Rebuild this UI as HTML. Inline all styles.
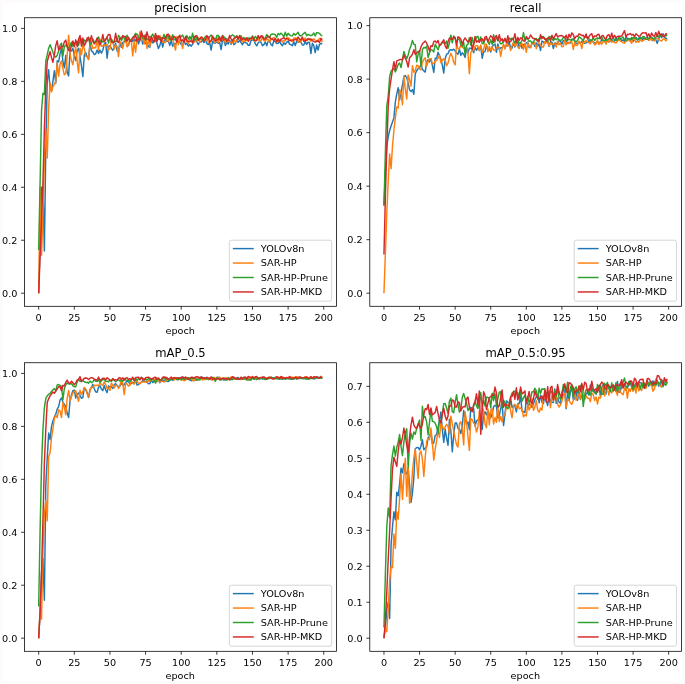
<!DOCTYPE html>
<html lang="en"><head><meta charset="utf-8"><title>training curves</title>
<style>
html,body{margin:0;padding:0;background:#fff;}
body{width:685px;height:684px;overflow:hidden;}
svg{display:block;font-family:"DejaVu Sans","Liberation Sans",sans-serif;fill:#000;}
.ax{fill:none;stroke:#000;stroke-width:.77;stroke-linecap:square;}
.tk{stroke:#000;stroke-width:.77;}
.ln{fill:none;stroke-width:1.45;stroke-linejoin:round;stroke-linecap:butt;}
.t10{font-size:9.7px;}
.t12{font-size:11.6px;}
.lg{fill:#fff;fill-opacity:.8;stroke:#ccc;stroke-opacity:.8;stroke-width:1;}
</style></head><body>
<svg width="685" height="684" viewBox="0 0 685 684">
<rect x="0" y="0" width="685" height="684" fill="#fff"/>
<rect x="1" y="1" width="683" height="682" fill="none" stroke="#fdfbfb" stroke-width="2"/>
<rect x="2.5" y="2.5" width="680" height="679" fill="none" stroke="#fefcfd" stroke-width="1"/>
<g>
<clipPath id="c1"><rect x="24.50" y="17.75" width="312.00" height="288.55"/></clipPath>
<g clip-path="url(#c1)">
<polyline class="ln" stroke="#1f77b4" points="38.68,293.20 40.11,240.24 41.53,187.28 42.96,187.28 44.38,251.10 45.81,147.56 47.23,81.36 48.66,69.71 50.08,89.30 51.51,90.63 52.93,81.36 54.36,70.77 55.79,83.08 57.21,60.77 58.64,61.96 60.06,53.60 61.49,48.65 62.91,61.31 64.34,67.73 65.76,55.26 67.19,72.12 68.61,75.88 70.04,50.43 71.46,50.96 72.89,48.28 74.31,55.87 75.74,60.58 77.17,50.37 78.59,48.35 80.02,56.28 81.44,65.74 82.87,76.60 84.29,55.05 85.72,52.42 87.14,56.92 88.57,59.01 89.99,42.75 91.42,50.82 92.84,51.90 94.27,54.62 95.69,53.80 97.12,49.89 98.54,53.40 99.97,50.16 101.40,53.08 102.82,50.22 104.25,43.95 105.67,42.41 107.10,58.06 108.52,46.33 109.95,45.54 111.37,48.36 112.80,50.43 114.22,46.98 115.65,43.21 117.07,50.93 118.50,51.17 119.92,42.08 121.35,47.38 122.78,42.44 124.20,41.82 125.63,39.31 127.05,45.22 128.48,45.45 129.90,40.14 131.33,40.40 132.75,41.43 134.18,39.46 135.60,41.09 137.03,37.46 138.45,43.95 139.88,39.66 141.30,37.48 142.73,43.98 144.15,41.12 145.58,43.68 147.01,42.72 148.43,46.64 149.86,47.18 151.28,39.84 152.71,42.90 154.13,41.27 155.56,40.18 156.98,43.29 158.41,48.52 159.83,45.66 161.26,39.88 162.68,47.20 164.11,40.53 165.53,39.31 166.96,41.39 168.38,41.00 169.81,45.42 171.24,40.48 172.66,46.41 174.09,43.35 175.51,44.36 176.94,42.32 178.36,41.62 179.79,42.33 181.21,44.41 182.64,45.20 184.06,40.25 185.49,44.52 186.91,43.45 188.34,46.14 189.76,44.51 191.19,46.16 192.62,44.17 194.04,41.36 195.47,39.35 196.89,42.01 198.32,44.71 199.74,41.78 201.17,42.01 202.59,40.53 204.02,42.71 205.44,39.92 206.87,43.59 208.29,44.53 209.72,42.83 211.14,50.11 212.57,41.34 213.99,43.01 215.42,42.98 216.85,41.90 218.27,43.34 219.70,42.61 221.12,49.58 222.55,39.93 223.97,40.58 225.40,45.56 226.82,42.57 228.25,43.89 229.67,40.14 231.10,44.24 232.52,40.03 233.95,44.73 235.37,43.50 236.80,39.88 238.22,42.33 239.65,40.09 241.08,42.71 242.50,44.75 243.93,41.57 245.35,42.82 246.78,42.93 248.20,45.31 249.63,45.24 251.05,40.22 252.48,40.07 253.90,40.04 255.33,43.89 256.75,45.84 258.18,42.70 259.60,41.59 261.03,42.16 262.46,45.78 263.88,44.70 265.31,41.88 266.73,45.76 268.16,41.11 269.58,40.30 271.01,44.64 272.43,45.75 273.86,40.47 275.28,41.71 276.71,43.50 278.13,43.38 279.56,40.97 280.98,44.08 282.41,45.74 283.83,42.70 285.26,44.34 286.69,42.39 288.11,41.01 289.54,44.11 290.96,44.71 292.39,45.72 293.81,41.74 295.24,45.58 296.66,41.20 298.09,42.46 299.51,41.47 300.94,41.98 302.36,45.03 303.79,45.10 305.21,41.37 306.64,44.56 308.07,42.24 309.49,42.43 310.92,53.56 312.34,43.23 313.77,45.61 315.19,52.50 316.62,45.08 318.04,50.11 319.47,44.29 320.89,43.49 322.32,43.76"/>
<polyline class="ln" stroke="#ff7f0e" points="38.68,293.20 40.11,187.28 41.53,255.33 42.96,213.76 44.38,160.80 45.81,129.02 47.23,158.15 48.66,107.84 50.08,82.68 51.51,91.95 52.93,86.66 54.36,84.41 55.79,81.09 57.21,62.71 58.64,76.19 60.06,64.33 61.49,61.01 62.91,68.87 64.34,74.80 65.76,73.37 67.19,55.38 68.61,35.14 70.04,54.29 71.46,60.81 72.89,64.84 74.31,53.96 75.74,47.38 77.17,61.63 78.59,72.82 80.02,48.12 81.44,54.73 82.87,44.95 84.29,48.55 85.72,56.16 87.14,56.26 88.57,59.78 89.99,44.35 91.42,43.21 92.84,48.45 94.27,47.50 95.69,47.84 97.12,39.40 98.54,50.20 99.97,39.08 101.40,46.20 102.82,45.78 104.25,44.89 105.67,45.79 107.10,44.16 108.52,49.89 109.95,48.86 111.37,39.52 112.80,40.75 114.22,49.36 115.65,45.32 117.07,46.35 118.50,56.60 119.92,41.70 121.35,43.13 122.78,48.44 124.20,40.57 125.63,37.05 127.05,47.00 128.48,44.45 129.90,39.09 131.33,41.08 132.75,55.94 134.18,41.25 135.60,52.23 137.03,39.01 138.45,38.93 139.88,31.84 141.30,40.58 142.73,35.27 144.15,44.06 145.58,34.67 147.01,48.52 148.43,39.13 149.86,46.08 151.28,38.31 152.71,38.67 154.13,36.02 155.56,35.14 156.98,40.95 158.41,38.37 159.83,35.52 161.26,38.98 162.68,42.27 164.11,42.28 165.53,42.55 166.96,35.47 168.38,41.29 169.81,35.75 171.24,36.73 172.66,38.45 174.09,45.12 175.51,50.11 176.94,36.41 178.36,44.82 179.79,39.04 181.21,41.32 182.64,48.52 184.06,39.37 185.49,39.47 186.91,41.77 188.34,43.62 189.76,37.96 191.19,37.18 192.62,42.45 194.04,42.27 195.47,41.05 196.89,40.87 198.32,37.56 199.74,42.20 201.17,40.72 202.59,39.16 204.02,40.07 205.44,41.25 206.87,38.27 208.29,42.53 209.72,42.13 211.14,40.73 212.57,38.21 213.99,41.67 215.42,42.59 216.85,37.28 218.27,42.44 219.70,39.36 221.12,41.35 222.55,39.21 223.97,39.00 225.40,42.69 226.82,40.88 228.25,40.99 229.67,41.95 231.10,42.97 232.52,42.93 233.95,39.33 235.37,42.43 236.80,41.01 238.22,37.08 239.65,37.65 241.08,37.42 242.50,41.81 243.93,40.93 245.35,41.35 246.78,39.88 248.20,39.56 249.63,40.35 251.05,38.41 252.48,38.97 253.90,38.89 255.33,41.78 256.75,38.44 258.18,39.04 259.60,40.96 261.03,40.54 262.46,37.18 263.88,40.72 265.31,40.73 266.73,39.28 268.16,39.27 269.58,42.51 271.01,39.53 272.43,38.47 273.86,37.59 275.28,38.90 276.71,41.96 278.13,41.29 279.56,40.41 280.98,39.33 282.41,42.06 283.83,40.58 285.26,40.93 286.69,37.70 288.11,37.73 289.54,38.87 290.96,39.99 292.39,41.72 293.81,37.93 295.24,38.08 296.66,38.30 298.09,42.26 299.51,38.85 300.94,42.00 302.36,38.28 303.79,39.77 305.21,37.94 306.64,40.52 308.07,39.62 309.49,38.97 310.92,41.30 312.34,39.62 313.77,38.81 315.19,40.17 316.62,40.60 318.04,40.15 319.47,38.38 320.89,38.18 322.32,42.17"/>
<polyline class="ln" stroke="#2ca02c" points="38.68,250.04 40.11,181.98 41.53,110.49 42.96,93.28 44.38,94.60 45.81,60.97 47.23,54.88 48.66,48.26 50.08,44.66 51.51,48.26 52.93,52.23 54.36,55.75 55.79,57.11 57.21,55.55 58.64,50.91 60.06,45.16 61.49,43.13 62.91,55.82 64.34,46.68 65.76,45.08 67.19,46.20 68.61,49.45 70.04,45.58 71.46,42.21 72.89,46.46 74.31,43.45 75.74,42.28 77.17,41.28 78.59,45.45 80.02,39.50 81.44,38.88 82.87,44.64 84.29,39.94 85.72,41.01 87.14,41.16 88.57,37.28 89.99,44.78 91.42,42.73 92.84,38.94 94.27,41.93 95.69,42.21 97.12,38.80 98.54,36.93 99.97,42.20 101.40,40.41 102.82,41.94 104.25,40.85 105.67,38.97 107.10,37.54 108.52,43.05 109.95,38.04 111.37,39.01 112.80,42.13 114.22,42.31 115.65,41.01 117.07,41.63 118.50,35.34 119.92,37.16 121.35,40.55 122.78,37.78 124.20,37.75 125.63,41.44 127.05,35.27 128.48,38.54 129.90,40.41 131.33,39.91 132.75,37.47 134.18,35.67 135.60,33.49 137.03,34.21 138.45,36.88 139.88,39.79 141.30,33.91 142.73,37.93 144.15,38.95 145.58,34.34 147.01,39.61 148.43,38.92 149.86,36.42 151.28,36.67 152.71,33.98 154.13,37.48 155.56,39.71 156.98,35.47 158.41,39.24 159.83,39.42 161.26,37.71 162.68,38.36 164.11,34.33 165.53,39.66 166.96,35.21 168.38,36.36 169.81,39.90 171.24,40.03 172.66,34.64 174.09,39.40 175.51,40.09 176.94,38.97 178.36,36.72 179.79,37.37 181.21,36.52 182.64,34.96 184.06,38.92 185.49,39.16 186.91,35.61 188.34,39.17 189.76,36.49 191.19,39.54 192.62,33.17 194.04,39.98 195.47,36.10 196.89,39.30 198.32,39.59 199.74,39.01 201.17,38.68 202.59,40.03 204.02,38.78 205.44,36.46 206.87,35.94 208.29,38.88 209.72,36.73 211.14,35.07 212.57,37.09 213.99,37.99 215.42,39.94 216.85,35.48 218.27,35.54 219.70,39.51 221.12,38.99 222.55,35.39 223.97,36.85 225.40,37.98 226.82,39.05 228.25,39.27 229.67,36.81 231.10,36.01 232.52,34.73 233.95,35.78 235.37,37.73 236.80,35.70 238.22,39.26 239.65,36.39 241.08,35.86 242.50,39.34 243.93,37.51 245.35,38.68 246.78,38.08 248.20,38.31 249.63,37.89 251.05,38.72 252.48,35.90 253.90,39.04 255.33,36.33 256.75,38.26 258.18,36.56 259.60,37.60 261.03,37.09 262.46,36.36 263.88,38.16 265.31,38.04 266.73,34.49 268.16,36.62 269.58,37.62 271.01,34.51 272.43,33.92 273.86,34.24 275.28,34.64 276.71,37.40 278.13,33.38 279.56,34.81 280.98,33.14 282.41,34.56 283.83,36.99 285.26,32.24 286.69,36.09 288.11,33.34 289.54,34.99 290.96,35.69 292.39,35.87 293.81,33.45 295.24,35.12 296.66,33.71 298.09,32.26 299.51,35.56 300.94,35.93 302.36,34.71 303.79,33.36 305.21,32.25 306.64,35.71 308.07,34.41 309.49,35.19 310.92,35.52 312.34,35.06 313.77,32.94 315.19,35.98 316.62,32.64 318.04,32.80 319.47,33.45 320.89,35.09 322.32,35.81"/>
<polyline class="ln" stroke="#d62728" points="38.68,293.20 40.11,256.13 41.53,219.06 42.96,181.98 44.38,129.02 45.81,86.66 47.23,61.61 48.66,56.20 50.08,51.70 51.51,57.53 52.93,62.29 54.36,54.88 55.79,45.41 57.21,40.83 58.64,50.21 60.06,48.78 61.49,46.16 62.91,46.84 64.34,41.95 65.76,40.08 67.19,46.90 68.61,50.28 70.04,50.84 71.46,45.56 72.89,40.97 74.31,46.79 75.74,39.85 77.17,46.72 78.59,39.27 80.02,35.51 81.44,46.06 82.87,37.99 84.29,45.71 85.72,43.12 87.14,37.98 88.57,37.45 89.99,41.94 91.42,35.62 92.84,41.19 94.27,43.83 95.69,41.98 97.12,37.99 98.54,41.63 99.97,44.73 101.40,41.79 102.82,34.41 104.25,41.80 105.67,39.82 107.10,36.78 108.52,34.43 109.95,34.76 111.37,41.93 112.80,42.67 114.22,41.76 115.65,33.32 117.07,41.15 118.50,42.49 119.92,38.23 121.35,38.61 122.78,35.55 124.20,36.65 125.63,36.55 127.05,41.38 128.48,37.22 129.90,41.43 131.33,40.96 132.75,37.81 134.18,37.91 135.60,34.73 137.03,41.24 138.45,39.07 139.88,40.25 141.30,31.05 142.73,36.31 144.15,35.82 145.58,39.97 147.01,31.84 148.43,37.68 149.86,41.36 151.28,36.85 152.71,40.10 154.13,41.92 155.56,33.48 156.98,41.65 158.41,35.79 159.83,37.91 161.26,41.62 162.68,37.86 164.11,38.72 165.53,37.80 166.96,34.54 168.38,34.13 169.81,37.05 171.24,39.72 172.66,39.08 174.09,36.36 175.51,37.65 176.94,42.05 178.36,37.63 179.79,35.17 181.21,41.08 182.64,39.83 184.06,42.26 185.49,36.42 186.91,40.60 188.34,41.56 189.76,41.55 191.19,40.64 192.62,42.72 194.04,36.98 195.47,36.17 196.89,35.62 198.32,40.37 199.74,39.05 201.17,37.02 202.59,37.70 204.02,40.57 205.44,39.64 206.87,35.78 208.29,37.07 209.72,41.92 211.14,40.94 212.57,35.90 213.99,39.39 215.42,40.90 216.85,39.84 218.27,39.35 219.70,36.86 221.12,41.34 222.55,36.14 223.97,39.53 225.40,38.83 226.82,41.27 228.25,40.25 229.67,35.50 231.10,38.80 232.52,41.04 233.95,38.24 235.37,37.75 236.80,36.17 238.22,39.06 239.65,35.42 241.08,40.62 242.50,38.42 243.93,39.19 245.35,40.01 246.78,37.81 248.20,41.30 249.63,38.52 251.05,38.64 252.48,36.90 253.90,39.86 255.33,40.39 256.75,40.50 258.18,35.48 259.60,38.96 261.03,35.73 262.46,36.18 263.88,39.14 265.31,39.38 266.73,37.82 268.16,36.14 269.58,37.00 271.01,39.11 272.43,39.03 273.86,40.55 275.28,38.40 276.71,41.79 278.13,38.71 279.56,41.67 280.98,39.09 282.41,38.67 283.83,37.65 285.26,39.18 286.69,38.54 288.11,39.17 289.54,40.83 290.96,40.60 292.39,39.86 293.81,40.28 295.24,39.21 296.66,40.14 298.09,37.07 299.51,39.16 300.94,39.90 302.36,36.98 303.79,41.37 305.21,40.12 306.64,40.27 308.07,38.49 309.49,39.58 310.92,38.98 312.34,40.53 313.77,41.63 315.19,42.04 316.62,41.49 318.04,40.76 319.47,42.55 320.89,38.68 322.32,39.52"/>
</g>
<line class="tk" x1="38.68" y1="306.30" x2="38.68" y2="309.70"/><text class="t10" transform="translate(38.68 320.90) scale(1 0.95)" text-anchor="middle">0</text>
<line class="tk" x1="74.31" y1="306.30" x2="74.31" y2="309.70"/><text class="t10" transform="translate(74.31 320.90) scale(1 0.95)" text-anchor="middle">25</text>
<line class="tk" x1="109.95" y1="306.30" x2="109.95" y2="309.70"/><text class="t10" transform="translate(109.95 320.90) scale(1 0.95)" text-anchor="middle">50</text>
<line class="tk" x1="145.58" y1="306.30" x2="145.58" y2="309.70"/><text class="t10" transform="translate(145.58 320.90) scale(1 0.95)" text-anchor="middle">75</text>
<line class="tk" x1="181.21" y1="306.30" x2="181.21" y2="309.70"/><text class="t10" transform="translate(181.21 320.90) scale(1 0.95)" text-anchor="middle">100</text>
<line class="tk" x1="216.85" y1="306.30" x2="216.85" y2="309.70"/><text class="t10" transform="translate(216.85 320.90) scale(1 0.95)" text-anchor="middle">125</text>
<line class="tk" x1="252.48" y1="306.30" x2="252.48" y2="309.70"/><text class="t10" transform="translate(252.48 320.90) scale(1 0.95)" text-anchor="middle">150</text>
<line class="tk" x1="288.11" y1="306.30" x2="288.11" y2="309.70"/><text class="t10" transform="translate(288.11 320.90) scale(1 0.95)" text-anchor="middle">175</text>
<line class="tk" x1="323.74" y1="306.30" x2="323.74" y2="309.70"/><text class="t10" transform="translate(323.74 320.90) scale(1 0.95)" text-anchor="middle">200</text>
<line class="tk" x1="21.10" y1="293.20" x2="24.50" y2="293.20"/><text class="t10" transform="translate(17.50 296.70) scale(1 0.95)" text-anchor="end">0.0</text>
<line class="tk" x1="21.10" y1="240.24" x2="24.50" y2="240.24"/><text class="t10" transform="translate(17.50 243.74) scale(1 0.95)" text-anchor="end">0.2</text>
<line class="tk" x1="21.10" y1="187.28" x2="24.50" y2="187.28"/><text class="t10" transform="translate(17.50 190.78) scale(1 0.95)" text-anchor="end">0.4</text>
<line class="tk" x1="21.10" y1="134.32" x2="24.50" y2="134.32"/><text class="t10" transform="translate(17.50 137.82) scale(1 0.95)" text-anchor="end">0.6</text>
<line class="tk" x1="21.10" y1="81.36" x2="24.50" y2="81.36"/><text class="t10" transform="translate(17.50 84.86) scale(1 0.95)" text-anchor="end">0.8</text>
<line class="tk" x1="21.10" y1="28.40" x2="24.50" y2="28.40"/><text class="t10" transform="translate(17.50 31.90) scale(1 0.95)" text-anchor="end">1.0</text>
<rect class="ax" x="24.50" y="17.75" width="312.00" height="288.55"/>
<text class="t12" x="180.50" y="11.65" text-anchor="middle">precision</text>
<text class="t10" transform="translate(180.20 334.00) scale(1 0.95)" text-anchor="middle">epoch</text>
<rect class="lg" x="229.35" y="240.20" width="102.30" height="61.00" rx="2" ry="2"/>
<line x1="232.85" y1="248.60" x2="253.75" y2="248.60" stroke="#1f77b4" stroke-width="1.45"/><text class="t10" transform="translate(260.75 251.90) scale(1 0.95)">YOLOv8n</text>
<line x1="232.85" y1="263.05" x2="253.75" y2="263.05" stroke="#ff7f0e" stroke-width="1.45"/><text class="t10" transform="translate(260.75 266.35) scale(1 0.95)">SAR-HP</text>
<line x1="232.85" y1="277.50" x2="253.75" y2="277.50" stroke="#2ca02c" stroke-width="1.45"/><text class="t10" transform="translate(260.75 280.80) scale(1 0.95)">SAR-HP-Prune</text>
<line x1="232.85" y1="291.95" x2="253.75" y2="291.95" stroke="#d62728" stroke-width="1.45"/><text class="t10" transform="translate(260.75 295.25) scale(1 0.95)">SAR-HP-MKD</text>
</g>
<g>
<clipPath id="c2"><rect x="369.80" y="17.75" width="311.60" height="288.55"/></clipPath>
<g clip-path="url(#c2)">
<polyline class="ln" stroke="#1f77b4" points="383.96,204.89 385.39,172.78 386.81,146.02 388.23,136.65 389.66,130.23 391.08,125.95 392.50,121.94 393.93,117.92 395.35,101.87 396.77,93.84 398.20,87.68 399.62,99.83 401.05,91.95 402.47,84.89 403.89,76.47 405.32,75.58 406.74,77.58 408.16,83.18 409.59,89.92 411.01,91.66 412.43,89.65 413.86,94.29 415.28,73.79 416.70,70.74 418.13,68.55 419.55,67.33 420.97,64.75 422.40,69.20 423.82,70.87 425.24,72.08 426.67,61.82 428.09,59.55 429.52,61.87 430.94,58.73 432.36,65.30 433.79,72.43 435.21,58.28 436.63,58.40 438.06,52.25 439.48,55.65 440.90,58.92 442.33,65.15 443.75,73.14 445.17,58.54 446.60,54.24 448.02,53.63 449.44,50.22 450.87,49.77 452.29,50.28 453.71,49.18 455.14,50.81 456.56,52.96 457.98,54.18 459.41,49.19 460.83,55.39 462.26,52.78 463.68,54.18 465.10,57.44 466.53,47.80 467.95,52.77 469.37,48.23 470.80,48.11 472.22,49.11 473.64,52.74 475.07,47.33 476.49,50.31 477.91,47.67 479.34,49.97 480.76,46.17 482.18,58.25 483.61,51.96 485.03,51.65 486.45,45.53 487.88,49.60 489.30,49.25 490.72,52.01 492.15,46.65 493.57,44.98 495.00,43.98 496.42,52.36 497.84,43.95 499.27,49.63 500.69,47.81 502.11,47.60 503.54,45.88 504.96,46.25 506.38,45.97 507.81,45.88 509.23,42.42 510.65,47.85 512.08,48.01 513.50,43.02 514.92,46.96 516.35,43.89 517.77,41.82 519.19,48.34 520.62,42.70 522.04,48.29 523.46,44.53 524.89,44.93 526.31,42.90 527.74,42.17 529.16,47.50 530.58,47.18 532.01,43.21 533.43,42.35 534.85,46.30 536.28,42.89 537.70,46.09 539.12,43.80 540.55,50.49 541.97,40.98 543.39,41.95 544.82,43.43 546.24,40.27 547.66,41.44 549.09,46.21 550.51,41.68 551.93,42.21 553.36,48.61 554.78,42.96 556.20,43.33 557.63,43.73 559.05,40.58 560.48,40.85 561.90,44.18 563.32,40.42 564.75,40.19 566.17,40.40 567.59,43.36 569.02,42.66 570.44,42.92 571.86,39.25 573.29,39.06 574.71,40.79 576.13,43.50 577.56,43.45 578.98,42.10 580.40,43.47 581.83,41.19 583.25,42.55 584.67,43.33 586.10,42.84 587.52,42.04 588.94,40.13 590.37,42.01 591.79,40.81 593.22,41.79 594.64,43.05 596.06,42.99 597.49,42.07 598.91,42.19 600.33,42.95 601.76,39.19 603.18,40.61 604.60,41.69 606.03,38.92 607.45,41.27 608.87,41.93 610.30,41.15 611.72,39.46 613.14,41.33 614.57,41.36 615.99,38.30 617.41,39.91 618.84,38.87 620.26,38.09 621.68,41.01 623.11,39.72 624.53,41.54 625.96,37.62 627.38,38.27 628.80,38.97 630.23,40.96 631.65,37.42 633.07,41.58 634.50,39.78 635.92,37.42 637.34,40.13 638.77,38.07 640.19,37.16 641.61,38.30 643.04,39.95 644.46,37.07 645.88,39.44 647.31,37.06 648.73,40.43 650.15,37.04 651.58,37.73 653.00,40.57 654.43,38.02 655.85,39.71 657.27,43.40 658.70,38.98 660.12,34.70 661.54,37.64 662.97,33.63 664.39,37.11 665.81,38.59 667.24,38.44"/>
<polyline class="ln" stroke="#ff7f0e" points="383.96,293.20 385.39,253.06 386.81,212.92 388.23,180.81 389.66,154.05 391.08,168.77 392.50,146.02 393.93,129.96 395.35,117.92 396.77,106.95 398.20,108.02 399.62,89.82 401.05,93.86 402.47,104.74 403.89,76.07 405.32,89.27 406.74,99.06 408.16,74.95 409.59,79.84 411.01,86.20 412.43,65.70 413.86,72.37 415.28,70.41 416.70,65.17 418.13,65.69 419.55,68.69 420.97,69.89 422.40,62.61 423.82,59.43 425.24,57.73 426.67,66.22 428.09,62.02 429.52,58.66 430.94,58.86 432.36,63.91 433.79,63.32 435.21,61.20 436.63,60.62 438.06,58.20 439.48,55.30 440.90,62.89 442.33,60.22 443.75,58.83 445.17,59.91 446.60,65.72 448.02,63.24 449.44,57.36 450.87,53.36 452.29,56.54 453.71,62.22 455.14,64.87 456.56,43.68 457.98,48.64 459.41,48.96 460.83,45.06 462.26,47.09 463.68,48.32 465.10,48.69 466.53,46.90 467.95,53.03 469.37,73.72 470.80,52.52 472.22,49.89 473.64,50.66 475.07,46.20 476.49,45.38 477.91,46.06 479.34,50.83 480.76,45.02 482.18,52.19 483.61,49.17 485.03,44.11 486.45,44.16 487.88,51.84 489.30,46.35 490.72,50.57 492.15,47.14 493.57,49.82 495.00,50.48 496.42,47.56 497.84,46.95 499.27,47.70 500.69,56.48 502.11,48.72 503.54,43.98 504.96,49.12 506.38,44.00 507.81,45.78 509.23,45.18 510.65,50.54 512.08,45.32 513.50,42.44 514.92,46.37 516.35,42.81 517.77,46.71 519.19,48.57 520.62,43.59 522.04,43.47 523.46,49.42 524.89,43.43 526.31,52.36 527.74,42.78 529.16,46.58 530.58,47.74 532.01,42.40 533.43,44.43 534.85,42.58 536.28,48.65 537.70,43.40 539.12,42.88 540.55,45.56 541.97,46.97 543.39,47.04 544.82,41.65 546.24,42.74 547.66,41.53 549.09,45.91 550.51,42.99 551.93,44.52 553.36,43.87 554.78,43.43 556.20,47.01 557.63,41.16 559.05,44.64 560.48,43.27 561.90,46.74 563.32,46.34 564.75,40.41 566.17,45.05 567.59,41.63 569.02,43.65 570.44,41.45 571.86,41.95 573.29,49.42 574.71,42.11 576.13,45.62 577.56,45.07 578.98,41.13 580.40,42.93 581.83,48.61 583.25,40.41 584.67,42.50 586.10,40.62 587.52,41.55 588.94,42.61 590.37,43.87 591.79,40.37 593.22,42.18 594.64,44.84 596.06,44.07 597.49,39.84 598.91,44.61 600.33,42.17 601.76,44.25 603.18,41.71 604.60,40.84 606.03,44.21 607.45,39.48 608.87,42.11 610.30,39.25 611.72,42.29 613.14,41.19 614.57,42.65 615.99,43.07 617.41,41.32 618.84,38.83 620.26,41.20 621.68,41.96 623.11,42.63 624.53,43.25 625.96,40.71 627.38,40.98 628.80,39.13 630.23,41.20 631.65,43.26 633.07,38.33 634.50,39.19 635.92,42.48 637.34,41.25 638.77,42.22 640.19,39.19 641.61,41.30 643.04,40.80 644.46,39.40 645.88,38.57 647.31,39.00 648.73,40.27 650.15,38.65 651.58,40.20 653.00,38.99 654.43,40.89 655.85,38.13 657.27,38.13 658.70,39.53 660.12,40.40 661.54,41.18 662.97,39.03 664.39,39.08 665.81,40.76 667.24,39.52"/>
<polyline class="ln" stroke="#2ca02c" points="383.96,205.96 385.39,151.37 386.81,105.88 388.23,95.98 389.66,76.44 391.08,71.09 392.50,69.75 393.93,68.42 395.35,71.89 396.77,68.42 398.20,64.40 399.62,63.06 401.05,67.53 402.47,59.85 403.89,51.39 405.32,55.49 406.74,58.63 408.16,54.99 409.59,49.28 411.01,45.80 412.43,40.39 413.86,44.24 415.28,44.71 416.70,61.85 418.13,54.39 419.55,50.76 420.97,66.39 422.40,49.70 423.82,47.41 425.24,48.10 426.67,46.30 428.09,57.52 429.52,52.82 430.94,49.66 432.36,50.14 433.79,51.93 435.21,44.18 436.63,47.23 438.06,49.66 439.48,45.45 440.90,44.57 442.33,42.30 443.75,42.95 445.17,43.41 446.60,41.12 448.02,48.35 449.44,42.85 450.87,35.23 452.29,42.89 453.71,36.04 455.14,38.68 456.56,42.40 457.98,39.28 459.41,39.12 460.83,44.77 462.26,46.16 463.68,42.34 465.10,55.04 466.53,45.23 467.95,44.33 469.37,37.63 470.80,45.15 472.22,37.59 473.64,44.00 475.07,40.36 476.49,37.19 477.91,36.30 479.34,41.74 480.76,36.93 482.18,43.53 483.61,43.82 485.03,39.39 486.45,37.97 487.88,41.37 489.30,44.37 490.72,39.79 492.15,44.37 493.57,34.70 495.00,42.00 496.42,37.25 497.84,38.11 499.27,41.48 500.69,43.80 502.11,43.45 503.54,40.10 504.96,40.26 506.38,40.24 507.81,43.13 509.23,37.90 510.65,39.36 512.08,38.08 513.50,40.30 514.92,43.13 516.35,39.13 517.77,40.31 519.19,43.38 520.62,43.00 522.04,40.26 523.46,32.56 524.89,40.04 526.31,38.52 527.74,39.03 529.16,41.27 530.58,40.87 532.01,42.81 533.43,41.94 534.85,39.26 536.28,38.47 537.70,41.75 539.12,38.18 540.55,38.73 541.97,36.45 543.39,37.22 544.82,39.26 546.24,38.72 547.66,41.91 549.09,36.57 550.51,36.94 551.93,38.97 553.36,40.61 554.78,38.48 556.20,39.77 557.63,38.54 559.05,39.86 560.48,40.38 561.90,39.82 563.32,37.29 564.75,37.36 566.17,40.39 567.59,40.08 569.02,39.28 570.44,39.80 571.86,40.07 573.29,39.01 574.71,41.22 576.13,41.56 577.56,40.69 578.98,36.82 580.40,37.82 581.83,38.99 583.25,40.91 584.67,36.70 586.10,37.24 587.52,36.91 588.94,38.75 590.37,39.95 591.79,40.44 593.22,37.76 594.64,40.51 596.06,38.55 597.49,37.96 598.91,38.68 600.33,37.69 601.76,37.11 603.18,40.68 604.60,40.51 606.03,40.50 607.45,39.75 608.87,38.62 610.30,39.05 611.72,39.01 613.14,38.00 614.57,40.22 615.99,40.32 617.41,40.21 618.84,37.29 620.26,39.22 621.68,38.22 623.11,36.98 624.53,39.93 625.96,40.45 627.38,39.56 628.80,39.07 630.23,38.43 631.65,39.73 633.07,37.50 634.50,38.05 635.92,37.39 637.34,39.70 638.77,39.47 640.19,37.89 641.61,38.73 643.04,36.40 644.46,37.07 645.88,39.28 647.31,39.37 648.73,38.43 650.15,36.50 651.58,37.14 653.00,38.52 654.43,39.13 655.85,37.16 657.27,35.41 658.70,36.69 660.12,35.14 661.54,36.83 662.97,34.79 664.39,36.55 665.81,35.18 667.24,35.77"/>
<polyline class="ln" stroke="#d62728" points="383.96,254.40 385.39,196.86 386.81,146.02 388.23,105.88 389.66,88.49 391.08,79.12 392.50,69.75 393.93,61.73 395.35,69.75 396.77,60.92 398.20,60.39 399.62,59.59 401.05,59.34 402.47,59.78 403.89,54.86 405.32,58.53 406.74,61.46 408.16,66.96 409.59,57.80 411.01,56.25 412.43,54.26 413.86,49.81 415.28,54.37 416.70,52.97 418.13,51.45 419.55,51.64 420.97,47.06 422.40,43.86 423.82,42.55 425.24,41.08 426.67,43.21 428.09,46.51 429.52,51.05 430.94,45.72 432.36,46.42 433.79,41.65 435.21,40.93 436.63,42.82 438.06,40.41 439.48,45.90 440.90,44.15 442.33,41.92 443.75,39.78 445.17,46.02 446.60,48.61 448.02,41.68 449.44,38.02 450.87,38.98 452.29,39.43 453.71,36.84 455.14,37.40 456.56,45.50 457.98,36.82 459.41,37.50 460.83,39.14 462.26,44.42 463.68,40.15 465.10,37.92 466.53,40.16 467.95,41.95 469.37,40.20 470.80,37.20 472.22,49.68 473.64,44.53 475.07,36.41 476.49,42.16 477.91,40.77 479.34,42.31 480.76,39.31 482.18,38.75 483.61,42.00 485.03,36.89 486.45,36.58 487.88,41.75 489.30,38.46 490.72,35.71 492.15,37.17 493.57,42.43 495.00,37.18 496.42,35.54 497.84,40.69 499.27,34.70 500.69,40.73 502.11,38.75 503.54,42.11 504.96,38.15 506.38,42.80 507.81,35.73 509.23,42.47 510.65,41.49 512.08,39.21 513.50,39.40 514.92,33.63 516.35,42.72 517.77,37.33 519.19,40.49 520.62,37.84 522.04,38.25 523.46,40.81 524.89,41.32 526.31,36.37 527.74,38.59 529.16,38.19 530.58,34.92 532.01,37.15 533.43,38.64 534.85,38.39 536.28,39.93 537.70,39.81 539.12,41.46 540.55,34.76 541.97,38.64 543.39,36.74 544.82,38.77 546.24,40.46 547.66,38.01 549.09,37.81 550.51,40.62 551.93,35.29 553.36,38.88 554.78,36.34 556.20,33.63 557.63,37.08 559.05,35.99 560.48,35.75 561.90,35.50 563.32,36.53 564.75,37.78 566.17,35.22 567.59,39.79 569.02,34.19 570.44,37.21 571.86,32.83 573.29,34.70 574.71,38.74 576.13,36.34 577.56,36.32 578.98,33.98 580.40,34.50 581.83,35.54 583.25,35.32 584.67,37.75 586.10,33.98 587.52,39.05 588.94,36.81 590.37,34.59 591.79,33.74 593.22,38.25 594.64,35.85 596.06,36.45 597.49,34.68 598.91,34.13 600.33,38.66 601.76,35.99 603.18,35.48 604.60,38.42 606.03,38.58 607.45,35.36 608.87,34.51 610.30,38.51 611.72,33.12 613.14,38.22 614.57,35.35 615.99,37.85 617.41,36.46 618.84,36.19 620.26,36.20 621.68,36.09 623.11,33.30 624.53,30.68 625.96,37.15 627.38,34.28 628.80,34.52 630.23,33.46 631.65,34.98 633.07,34.36 634.50,36.57 635.92,33.75 637.34,34.96 638.77,36.18 640.19,35.83 641.61,33.63 643.04,32.56 644.46,33.14 645.88,32.56 647.31,36.73 648.73,33.82 650.15,36.92 651.58,33.05 653.00,35.43 654.43,36.41 655.85,32.56 657.27,36.58 658.70,31.22 660.12,34.94 661.54,33.92 662.97,36.52 664.39,36.52 665.81,33.76 667.24,34.43"/>
</g>
<line class="tk" x1="383.96" y1="306.30" x2="383.96" y2="309.70"/><text class="t10" transform="translate(383.96 320.90) scale(1 0.95)" text-anchor="middle">0</text>
<line class="tk" x1="419.55" y1="306.30" x2="419.55" y2="309.70"/><text class="t10" transform="translate(419.55 320.90) scale(1 0.95)" text-anchor="middle">25</text>
<line class="tk" x1="455.14" y1="306.30" x2="455.14" y2="309.70"/><text class="t10" transform="translate(455.14 320.90) scale(1 0.95)" text-anchor="middle">50</text>
<line class="tk" x1="490.72" y1="306.30" x2="490.72" y2="309.70"/><text class="t10" transform="translate(490.72 320.90) scale(1 0.95)" text-anchor="middle">75</text>
<line class="tk" x1="526.31" y1="306.30" x2="526.31" y2="309.70"/><text class="t10" transform="translate(526.31 320.90) scale(1 0.95)" text-anchor="middle">100</text>
<line class="tk" x1="561.90" y1="306.30" x2="561.90" y2="309.70"/><text class="t10" transform="translate(561.90 320.90) scale(1 0.95)" text-anchor="middle">125</text>
<line class="tk" x1="597.49" y1="306.30" x2="597.49" y2="309.70"/><text class="t10" transform="translate(597.49 320.90) scale(1 0.95)" text-anchor="middle">150</text>
<line class="tk" x1="633.07" y1="306.30" x2="633.07" y2="309.70"/><text class="t10" transform="translate(633.07 320.90) scale(1 0.95)" text-anchor="middle">175</text>
<line class="tk" x1="668.66" y1="306.30" x2="668.66" y2="309.70"/><text class="t10" transform="translate(668.66 320.90) scale(1 0.95)" text-anchor="middle">200</text>
<line class="tk" x1="366.40" y1="293.20" x2="369.80" y2="293.20"/><text class="t10" transform="translate(362.80 296.70) scale(1 0.95)" text-anchor="end">0.0</text>
<line class="tk" x1="366.40" y1="239.68" x2="369.80" y2="239.68"/><text class="t10" transform="translate(362.80 243.18) scale(1 0.95)" text-anchor="end">0.2</text>
<line class="tk" x1="366.40" y1="186.16" x2="369.80" y2="186.16"/><text class="t10" transform="translate(362.80 189.66) scale(1 0.95)" text-anchor="end">0.4</text>
<line class="tk" x1="366.40" y1="132.64" x2="369.80" y2="132.64"/><text class="t10" transform="translate(362.80 136.14) scale(1 0.95)" text-anchor="end">0.6</text>
<line class="tk" x1="366.40" y1="79.12" x2="369.80" y2="79.12"/><text class="t10" transform="translate(362.80 82.62) scale(1 0.95)" text-anchor="end">0.8</text>
<line class="tk" x1="366.40" y1="25.60" x2="369.80" y2="25.60"/><text class="t10" transform="translate(362.80 29.10) scale(1 0.95)" text-anchor="end">1.0</text>
<rect class="ax" x="369.80" y="17.75" width="311.60" height="288.55"/>
<text class="t12" x="525.60" y="11.65" text-anchor="middle">recall</text>
<text class="t10" transform="translate(525.30 334.00) scale(1 0.95)" text-anchor="middle">epoch</text>
<rect class="lg" x="574.25" y="240.20" width="102.30" height="61.00" rx="2" ry="2"/>
<line x1="577.75" y1="248.60" x2="598.65" y2="248.60" stroke="#1f77b4" stroke-width="1.45"/><text class="t10" transform="translate(605.65 251.90) scale(1 0.95)">YOLOv8n</text>
<line x1="577.75" y1="263.05" x2="598.65" y2="263.05" stroke="#ff7f0e" stroke-width="1.45"/><text class="t10" transform="translate(605.65 266.35) scale(1 0.95)">SAR-HP</text>
<line x1="577.75" y1="277.50" x2="598.65" y2="277.50" stroke="#2ca02c" stroke-width="1.45"/><text class="t10" transform="translate(605.65 280.80) scale(1 0.95)">SAR-HP-Prune</text>
<line x1="577.75" y1="291.95" x2="598.65" y2="291.95" stroke="#d62728" stroke-width="1.45"/><text class="t10" transform="translate(605.65 295.25) scale(1 0.95)">SAR-HP-MKD</text>
</g>
<g>
<clipPath id="c3"><rect x="24.50" y="362.75" width="312.00" height="288.55"/></clipPath>
<g clip-path="url(#c3)">
<polyline class="ln" stroke="#1f77b4" points="38.68,638.20 40.11,611.72 41.53,572.00 42.96,558.76 44.38,600.33 45.81,484.62 47.23,458.14 48.66,432.98 50.08,439.60 51.51,426.36 52.93,421.06 54.36,417.09 55.79,414.15 57.21,409.08 58.64,406.71 60.06,400.06 61.49,397.90 62.91,402.09 64.34,404.28 65.76,406.73 67.19,413.07 68.61,417.41 70.04,400.58 71.46,395.10 72.89,390.77 74.31,390.07 75.74,398.09 77.17,394.27 78.59,392.96 80.02,395.56 81.44,398.26 82.87,397.57 84.29,387.66 85.72,389.36 87.14,392.61 88.57,397.55 89.99,389.56 91.42,387.46 92.84,384.29 94.27,388.72 95.69,391.87 97.12,392.31 98.54,387.25 99.97,385.80 101.40,388.92 102.82,390.61 104.25,385.53 105.67,390.00 107.10,392.70 108.52,385.97 109.95,387.00 111.37,386.83 112.80,388.49 114.22,384.73 115.65,383.70 117.07,385.45 118.50,386.78 119.92,386.30 121.35,382.75 122.78,385.03 124.20,384.68 125.63,382.27 127.05,381.41 128.48,381.94 129.90,383.86 131.33,383.54 132.75,382.56 134.18,382.90 135.60,380.39 137.03,385.05 138.45,384.62 139.88,383.05 141.30,382.35 142.73,380.85 144.15,380.91 145.58,381.44 147.01,382.20 148.43,383.77 149.86,383.65 151.28,379.53 152.71,382.60 154.13,381.29 155.56,378.97 156.98,380.85 158.41,380.19 159.83,382.72 161.26,380.55 162.68,380.32 164.11,380.96 165.53,379.43 166.96,381.21 168.38,381.50 169.81,380.37 171.24,379.10 172.66,380.29 174.09,379.34 175.51,378.25 176.94,378.64 178.36,377.61 179.79,378.13 181.21,379.84 182.64,377.17 184.06,377.50 185.49,378.97 186.91,378.82 188.34,379.23 189.76,379.78 191.19,380.76 192.62,379.89 194.04,380.76 195.47,379.78 196.89,380.29 198.32,377.84 199.74,377.55 201.17,377.49 202.59,377.29 204.02,379.07 205.44,379.03 206.87,377.22 208.29,379.54 209.72,378.84 211.14,379.73 212.57,379.18 213.99,378.56 215.42,379.40 216.85,377.30 218.27,377.25 219.70,379.85 221.12,379.45 222.55,378.85 223.97,380.10 225.40,379.73 226.82,379.53 228.25,377.69 229.67,380.04 231.10,378.02 232.52,378.67 233.95,378.48 235.37,378.91 236.80,377.64 238.22,377.55 239.65,379.34 241.08,378.11 242.50,379.26 243.93,377.74 245.35,379.35 246.78,377.84 248.20,377.24 249.63,379.83 251.05,379.43 252.48,377.17 253.90,379.12 255.33,378.81 256.75,378.32 258.18,378.51 259.60,379.52 261.03,377.84 262.46,379.30 263.88,377.24 265.31,379.50 266.73,379.28 268.16,377.61 269.58,378.42 271.01,377.23 272.43,377.59 273.86,378.86 275.28,377.31 276.71,378.58 278.13,378.88 279.56,378.97 280.98,377.23 282.41,379.19 283.83,378.23 285.26,379.26 286.69,378.15 288.11,378.58 289.54,378.99 290.96,378.77 292.39,378.68 293.81,379.16 295.24,378.13 296.66,378.74 298.09,377.16 299.51,377.93 300.94,377.23 302.36,378.58 303.79,378.74 305.21,377.46 306.64,378.47 308.07,378.01 309.49,377.91 310.92,378.62 312.34,378.64 313.77,378.84 315.19,378.71 316.62,377.41 318.04,377.28 319.47,377.95 320.89,377.77 322.32,378.49"/>
<polyline class="ln" stroke="#ff7f0e" points="38.68,638.20 40.11,611.72 41.53,619.13 42.96,550.82 44.38,513.74 45.81,500.50 47.23,520.89 48.66,456.55 50.08,452.84 51.51,437.48 52.93,429.01 54.36,418.42 55.79,415.31 57.21,417.55 58.64,409.77 60.06,410.99 61.49,417.56 62.91,402.15 64.34,407.60 65.76,414.81 67.19,398.01 68.61,390.36 70.04,400.69 71.46,396.68 72.89,392.74 74.31,391.36 75.74,390.71 77.17,396.05 78.59,401.29 80.02,390.25 81.44,394.62 82.87,391.69 84.29,387.45 85.72,389.32 87.14,393.67 88.57,397.04 89.99,391.09 91.42,387.03 92.84,387.33 94.27,385.21 95.69,385.65 97.12,385.05 98.54,385.78 99.97,382.83 101.40,384.57 102.82,385.41 104.25,381.95 105.67,384.50 107.10,388.60 108.52,388.03 109.95,390.30 111.37,383.16 112.80,385.24 114.22,388.08 115.65,385.11 117.07,385.51 118.50,388.49 119.92,385.16 121.35,380.72 122.78,383.08 124.20,394.58 125.63,383.17 127.05,384.03 128.48,385.99 129.90,385.31 131.33,380.94 132.75,382.95 134.18,384.16 135.60,381.46 137.03,381.21 138.45,383.21 139.88,383.89 141.30,381.78 142.73,382.12 144.15,381.91 145.58,381.94 147.01,382.28 148.43,380.72 149.86,381.26 151.28,379.24 152.71,379.57 154.13,379.07 155.56,381.49 156.98,381.76 158.41,380.12 159.83,381.87 161.26,381.60 162.68,381.17 164.11,382.09 165.53,381.13 166.96,379.16 168.38,379.07 169.81,379.50 171.24,378.51 172.66,378.11 174.09,380.05 175.51,378.08 176.94,377.72 178.36,378.95 179.79,378.61 181.21,380.11 182.64,379.67 184.06,380.72 185.49,380.33 186.91,378.08 188.34,378.78 189.76,378.54 191.19,377.24 192.62,380.60 194.04,380.42 195.47,379.32 196.89,379.98 198.32,378.79 199.74,377.66 201.17,378.48 202.59,379.96 204.02,379.22 205.44,379.54 206.87,378.04 208.29,379.57 209.72,377.81 211.14,379.42 212.57,380.15 213.99,377.17 215.42,378.54 216.85,377.80 218.27,378.23 219.70,376.96 221.12,379.54 222.55,378.71 223.97,378.43 225.40,377.86 226.82,377.65 228.25,379.74 229.67,378.16 231.10,376.99 232.52,377.24 233.95,379.16 235.37,377.95 236.80,378.48 238.22,378.38 239.65,379.51 241.08,379.59 242.50,378.16 243.93,378.47 245.35,377.93 246.78,379.06 248.20,377.04 249.63,379.40 251.05,377.36 252.48,377.32 253.90,377.84 255.33,376.75 256.75,379.27 258.18,378.90 259.60,378.69 261.03,378.02 262.46,377.13 263.88,377.64 265.31,378.09 266.73,378.18 268.16,377.37 269.58,377.52 271.01,377.09 272.43,378.78 273.86,378.84 275.28,378.01 276.71,377.78 278.13,377.08 279.56,377.54 280.98,378.33 282.41,376.68 283.83,378.34 285.26,378.21 286.69,378.40 288.11,378.26 289.54,377.10 290.96,377.38 292.39,377.03 293.81,378.22 295.24,377.52 296.66,376.71 298.09,377.32 299.51,376.62 300.94,378.35 302.36,377.82 303.79,377.76 305.21,376.61 306.64,376.86 308.07,377.60 309.49,377.42 310.92,376.60 312.34,378.04 313.77,377.82 315.19,377.62 316.62,377.07 318.04,377.79 319.47,377.71 320.89,376.35 322.32,377.88"/>
<polyline class="ln" stroke="#2ca02c" points="38.68,606.42 40.11,529.63 41.53,466.08 42.96,429.01 44.38,407.82 45.81,398.56 47.23,395.91 48.66,394.32 50.08,393.26 51.51,391.41 52.93,389.82 54.36,388.49 55.79,391.19 57.21,384.94 58.64,384.51 60.06,385.31 61.49,386.14 62.91,399.75 64.34,388.51 65.76,384.83 67.19,383.05 68.61,383.78 70.04,384.24 71.46,383.42 72.89,385.84 74.31,386.74 75.74,386.86 77.17,381.90 78.59,379.13 80.02,381.33 81.44,380.16 82.87,380.66 84.29,381.76 85.72,382.44 87.14,382.21 88.57,383.21 89.99,381.11 91.42,382.58 92.84,381.91 94.27,379.57 95.69,381.37 97.12,381.40 98.54,379.87 99.97,382.52 101.40,380.71 102.82,379.63 104.25,379.42 105.67,381.46 107.10,381.15 108.52,381.75 109.95,379.91 111.37,381.53 112.80,379.02 114.22,380.13 115.65,381.75 117.07,380.43 118.50,379.52 119.92,381.09 121.35,380.13 122.78,381.34 124.20,378.89 125.63,380.14 127.05,380.30 128.48,380.09 129.90,381.47 131.33,379.80 132.75,378.25 134.18,380.89 135.60,378.41 137.03,380.44 138.45,378.66 139.88,378.42 141.30,378.17 142.73,377.92 144.15,379.82 145.58,378.90 147.01,380.15 148.43,378.49 149.86,379.74 151.28,379.47 152.71,378.58 154.13,380.60 155.56,383.20 156.98,378.10 158.41,378.80 159.83,380.15 161.26,379.68 162.68,379.17 164.11,377.82 165.53,379.17 166.96,377.79 168.38,380.43 169.81,380.20 171.24,379.10 172.66,378.81 174.09,377.79 175.51,378.03 176.94,379.69 178.36,379.76 179.79,378.12 181.21,379.58 182.64,378.69 184.06,379.38 185.49,378.85 186.91,378.29 188.34,377.71 189.76,379.56 191.19,378.61 192.62,378.19 194.04,378.52 195.47,378.18 196.89,379.82 198.32,379.65 199.74,380.12 201.17,378.12 202.59,377.94 204.02,378.07 205.44,378.28 206.87,378.98 208.29,378.87 209.72,378.84 211.14,377.54 212.57,377.56 213.99,378.95 215.42,381.34 216.85,377.69 218.27,378.36 219.70,379.13 221.12,380.01 222.55,378.54 223.97,378.14 225.40,379.57 226.82,379.95 228.25,378.24 229.67,379.51 231.10,379.51 232.52,379.68 233.95,377.83 235.37,378.64 236.80,379.45 238.22,378.86 239.65,379.00 241.08,378.48 242.50,378.17 243.93,378.86 245.35,379.05 246.78,379.93 248.20,379.96 249.63,379.55 251.05,379.95 252.48,378.10 253.90,379.29 255.33,377.69 256.75,379.61 258.18,377.87 259.60,378.45 261.03,377.94 262.46,377.84 263.88,378.98 265.31,379.36 266.73,379.22 268.16,378.80 269.58,377.75 271.01,377.49 272.43,378.35 273.86,377.80 275.28,378.36 276.71,378.85 278.13,378.00 279.56,379.15 280.98,379.12 282.41,378.83 283.83,378.76 285.26,378.67 286.69,378.81 288.11,378.59 289.54,377.62 290.96,379.40 292.39,379.17 293.81,378.06 295.24,377.74 296.66,379.16 298.09,378.58 299.51,378.52 300.94,378.48 302.36,378.18 303.79,378.02 305.21,379.02 306.64,378.88 308.07,379.18 309.49,378.99 310.92,377.69 312.34,377.95 313.77,378.55 315.19,378.38 316.62,377.34 318.04,377.44 319.47,378.32 320.89,378.13 322.32,377.56"/>
<polyline class="ln" stroke="#d62728" points="38.68,638.20 40.11,611.72 41.53,572.00 42.96,519.04 44.38,463.43 45.81,429.01 47.23,402.53 48.66,398.56 50.08,395.91 51.51,393.79 52.93,391.94 54.36,393.26 55.79,391.03 57.21,388.91 58.64,386.57 60.06,386.83 61.49,390.87 62.91,385.35 64.34,385.83 65.76,382.29 67.19,380.06 68.61,383.10 70.04,383.17 71.46,381.20 72.89,382.61 74.31,384.73 75.74,382.92 77.17,379.96 78.59,379.36 80.02,376.70 81.44,381.53 82.87,379.98 84.29,378.30 85.72,378.07 87.14,378.32 88.57,379.56 89.99,378.16 91.42,377.60 92.84,378.04 94.27,379.23 95.69,379.53 97.12,380.45 98.54,377.10 99.97,380.23 101.40,379.73 102.82,378.16 104.25,378.34 105.67,379.87 107.10,377.77 108.52,378.80 109.95,380.31 111.37,380.44 112.80,378.57 114.22,379.99 115.65,379.65 117.07,380.32 118.50,378.23 119.92,377.57 121.35,379.70 122.78,377.72 124.20,380.05 125.63,378.25 127.05,377.63 128.48,379.31 129.90,378.72 131.33,379.64 132.75,377.21 134.18,380.02 135.60,377.51 137.03,377.54 138.45,377.16 139.88,379.79 141.30,377.14 142.73,379.69 144.15,379.87 145.58,377.77 147.01,377.40 148.43,377.18 149.86,378.08 151.28,378.94 152.71,378.52 154.13,377.54 155.56,377.13 156.98,379.36 158.41,378.04 159.83,379.72 161.26,379.55 162.68,377.32 164.11,377.00 165.53,377.22 166.96,377.99 168.38,379.05 169.81,378.28 171.24,376.97 172.66,379.10 174.09,377.47 175.51,377.91 176.94,377.97 178.36,378.30 179.79,378.77 181.21,377.32 182.64,377.02 184.06,378.43 185.49,377.07 186.91,377.76 188.34,379.27 189.76,378.12 191.19,377.41 192.62,377.29 194.04,378.14 195.47,377.07 196.89,376.77 198.32,376.92 199.74,378.29 201.17,376.86 202.59,378.50 204.02,377.63 205.44,378.17 206.87,377.57 208.29,377.84 209.72,379.25 211.14,376.78 212.57,379.13 213.99,378.45 215.42,379.29 216.85,378.84 218.27,378.98 219.70,379.08 221.12,379.07 222.55,378.01 223.97,378.70 225.40,378.55 226.82,379.23 228.25,378.87 229.67,378.74 231.10,378.90 232.52,376.77 233.95,377.25 235.37,378.60 236.80,379.14 238.22,378.75 239.65,379.13 241.08,377.11 242.50,379.01 243.93,377.12 245.35,376.89 246.78,379.04 248.20,376.53 249.63,376.90 251.05,377.91 252.48,376.52 253.90,378.36 255.33,376.93 256.75,376.45 258.18,378.55 259.60,377.89 261.03,377.39 262.46,377.29 263.88,376.93 265.31,377.88 266.73,378.85 268.16,377.73 269.58,377.28 271.01,378.26 272.43,378.85 273.86,378.71 275.28,378.46 276.71,376.64 278.13,377.47 279.56,378.57 280.98,376.53 282.41,378.27 283.83,377.56 285.26,378.30 286.69,377.46 288.11,378.19 289.54,376.47 290.96,377.79 292.39,378.60 293.81,377.85 295.24,377.04 296.66,378.08 298.09,378.31 299.51,377.31 300.94,377.50 302.36,377.87 303.79,377.65 305.21,377.55 306.64,376.95 308.07,378.25 309.49,378.34 310.92,376.71 312.34,378.31 313.77,376.79 315.19,377.02 316.62,376.82 318.04,378.10 319.47,377.64 320.89,377.04 322.32,377.41"/>
</g>
<line class="tk" x1="38.68" y1="651.30" x2="38.68" y2="654.70"/><text class="t10" transform="translate(38.68 665.90) scale(1 0.95)" text-anchor="middle">0</text>
<line class="tk" x1="74.31" y1="651.30" x2="74.31" y2="654.70"/><text class="t10" transform="translate(74.31 665.90) scale(1 0.95)" text-anchor="middle">25</text>
<line class="tk" x1="109.95" y1="651.30" x2="109.95" y2="654.70"/><text class="t10" transform="translate(109.95 665.90) scale(1 0.95)" text-anchor="middle">50</text>
<line class="tk" x1="145.58" y1="651.30" x2="145.58" y2="654.70"/><text class="t10" transform="translate(145.58 665.90) scale(1 0.95)" text-anchor="middle">75</text>
<line class="tk" x1="181.21" y1="651.30" x2="181.21" y2="654.70"/><text class="t10" transform="translate(181.21 665.90) scale(1 0.95)" text-anchor="middle">100</text>
<line class="tk" x1="216.85" y1="651.30" x2="216.85" y2="654.70"/><text class="t10" transform="translate(216.85 665.90) scale(1 0.95)" text-anchor="middle">125</text>
<line class="tk" x1="252.48" y1="651.30" x2="252.48" y2="654.70"/><text class="t10" transform="translate(252.48 665.90) scale(1 0.95)" text-anchor="middle">150</text>
<line class="tk" x1="288.11" y1="651.30" x2="288.11" y2="654.70"/><text class="t10" transform="translate(288.11 665.90) scale(1 0.95)" text-anchor="middle">175</text>
<line class="tk" x1="323.74" y1="651.30" x2="323.74" y2="654.70"/><text class="t10" transform="translate(323.74 665.90) scale(1 0.95)" text-anchor="middle">200</text>
<line class="tk" x1="21.10" y1="638.20" x2="24.50" y2="638.20"/><text class="t10" transform="translate(17.50 641.70) scale(1 0.95)" text-anchor="end">0.0</text>
<line class="tk" x1="21.10" y1="585.24" x2="24.50" y2="585.24"/><text class="t10" transform="translate(17.50 588.74) scale(1 0.95)" text-anchor="end">0.2</text>
<line class="tk" x1="21.10" y1="532.28" x2="24.50" y2="532.28"/><text class="t10" transform="translate(17.50 535.78) scale(1 0.95)" text-anchor="end">0.4</text>
<line class="tk" x1="21.10" y1="479.32" x2="24.50" y2="479.32"/><text class="t10" transform="translate(17.50 482.82) scale(1 0.95)" text-anchor="end">0.6</text>
<line class="tk" x1="21.10" y1="426.36" x2="24.50" y2="426.36"/><text class="t10" transform="translate(17.50 429.86) scale(1 0.95)" text-anchor="end">0.8</text>
<line class="tk" x1="21.10" y1="373.40" x2="24.50" y2="373.40"/><text class="t10" transform="translate(17.50 376.90) scale(1 0.95)" text-anchor="end">1.0</text>
<rect class="ax" x="24.50" y="362.75" width="312.00" height="288.55"/>
<text class="t12" x="180.50" y="356.65" text-anchor="middle">mAP_0.5</text>
<text class="t10" transform="translate(180.20 679.00) scale(1 0.95)" text-anchor="middle">epoch</text>
<rect class="lg" x="229.35" y="585.20" width="102.30" height="61.00" rx="2" ry="2"/>
<line x1="232.85" y1="593.60" x2="253.75" y2="593.60" stroke="#1f77b4" stroke-width="1.45"/><text class="t10" transform="translate(260.75 596.90) scale(1 0.95)">YOLOv8n</text>
<line x1="232.85" y1="608.05" x2="253.75" y2="608.05" stroke="#ff7f0e" stroke-width="1.45"/><text class="t10" transform="translate(260.75 611.35) scale(1 0.95)">SAR-HP</text>
<line x1="232.85" y1="622.50" x2="253.75" y2="622.50" stroke="#2ca02c" stroke-width="1.45"/><text class="t10" transform="translate(260.75 625.80) scale(1 0.95)">SAR-HP-Prune</text>
<line x1="232.85" y1="636.95" x2="253.75" y2="636.95" stroke="#d62728" stroke-width="1.45"/><text class="t10" transform="translate(260.75 640.25) scale(1 0.95)">SAR-HP-MKD</text>
</g>
<g>
<clipPath id="c4"><rect x="369.80" y="362.75" width="311.60" height="288.55"/></clipPath>
<g clip-path="url(#c4)">
<polyline class="ln" stroke="#1f77b4" points="383.96,638.20 385.39,627.41 386.81,609.42 388.23,602.22 389.66,618.41 391.08,544.65 392.50,526.66 393.93,511.73 395.35,519.83 396.77,492.12 398.20,495.72 399.62,483.49 401.05,468.17 402.47,472.89 403.89,463.63 405.32,472.15 406.74,474.30 408.16,468.62 409.59,485.02 411.01,502.35 412.43,493.07 413.86,477.30 415.28,448.78 416.70,447.63 418.13,447.45 419.55,449.78 420.97,446.23 422.40,439.76 423.82,449.69 425.24,448.15 426.67,446.78 428.09,437.54 429.52,436.36 430.94,431.36 432.36,444.02 433.79,442.67 435.21,435.30 436.63,434.70 438.06,427.27 439.48,420.10 440.90,411.96 442.33,429.71 443.75,442.36 445.17,429.18 446.60,438.35 448.02,445.32 449.44,419.16 450.87,431.41 452.29,451.86 453.71,435.03 455.14,423.09 456.56,422.90 457.98,428.44 459.41,429.31 460.83,433.53 462.26,425.85 463.68,410.42 465.10,416.87 466.53,424.34 467.95,421.78 469.37,429.67 470.80,407.13 472.22,409.01 473.64,408.36 475.07,426.17 476.49,420.95 477.91,419.99 479.34,417.07 480.76,414.50 482.18,429.52 483.61,414.71 485.03,411.69 486.45,414.92 487.88,410.55 489.30,414.51 490.72,417.87 492.15,414.06 493.57,406.50 495.00,405.44 496.42,406.26 497.84,418.07 499.27,415.84 500.69,408.70 502.11,401.35 503.54,425.56 504.96,414.19 506.38,400.90 507.81,401.84 509.23,406.32 510.65,398.34 512.08,407.42 513.50,405.92 514.92,405.73 516.35,411.90 517.77,403.48 519.19,403.73 520.62,396.60 522.04,410.77 523.46,411.60 524.89,412.61 526.31,399.82 527.74,404.99 529.16,404.54 530.58,404.97 532.01,407.46 533.43,404.07 534.85,399.74 536.28,396.99 537.70,394.81 539.12,402.83 540.55,395.19 541.97,402.46 543.39,403.58 544.82,396.37 546.24,400.21 547.66,405.49 549.09,396.65 550.51,401.51 551.93,402.21 553.36,402.50 554.78,389.02 556.20,403.40 557.63,397.95 559.05,402.14 560.48,403.25 561.90,392.29 563.32,389.68 564.75,390.76 566.17,408.65 567.59,391.87 569.02,400.57 570.44,392.06 571.86,387.07 573.29,399.54 574.71,398.71 576.13,391.73 577.56,400.23 578.98,391.94 580.40,399.46 581.83,396.04 583.25,395.24 584.67,398.29 586.10,393.72 587.52,392.61 588.94,395.08 590.37,384.86 591.79,387.78 593.22,391.53 594.64,390.61 596.06,394.04 597.49,387.36 598.91,385.69 600.33,395.57 601.76,388.03 603.18,384.65 604.60,392.91 606.03,393.96 607.45,384.25 608.87,388.22 610.30,387.12 611.72,386.04 613.14,385.51 614.57,386.47 615.99,391.65 617.41,381.41 618.84,392.26 620.26,392.15 621.68,382.65 623.11,386.18 624.53,383.69 625.96,390.37 627.38,387.29 628.80,385.60 630.23,381.76 631.65,386.91 633.07,384.74 634.50,389.12 635.92,383.68 637.34,383.27 638.77,382.09 640.19,382.89 641.61,383.06 643.04,387.45 644.46,384.45 645.88,385.47 647.31,380.51 648.73,386.19 650.15,381.60 651.58,385.43 653.00,380.84 654.43,383.65 655.85,379.82 657.27,381.71 658.70,386.03 660.12,385.05 661.54,379.61 662.97,383.61 664.39,383.95 665.81,380.29 667.24,382.02"/>
<polyline class="ln" stroke="#ff7f0e" points="383.96,638.20 385.39,627.41 386.81,631.72 388.23,609.42 389.66,580.63 391.08,566.24 392.50,567.68 393.93,533.86 395.35,548.25 396.77,511.73 398.20,519.11 399.62,497.88 401.05,474.01 402.47,499.34 403.89,476.41 405.32,458.22 406.74,496.38 408.16,467.50 409.59,503.17 411.01,495.11 412.43,471.44 413.86,457.76 415.28,449.28 416.70,462.95 418.13,478.51 419.55,453.85 420.97,450.96 422.40,459.15 423.82,476.42 425.24,457.26 426.67,441.57 428.09,438.13 429.52,439.70 430.94,427.96 432.36,442.72 433.79,460.14 435.21,449.24 436.63,440.48 438.06,430.52 439.48,437.47 440.90,422.94 442.33,425.92 443.75,429.83 445.17,426.95 446.60,424.36 448.02,426.13 449.44,433.68 450.87,416.11 452.29,424.05 453.71,430.32 455.14,438.34 456.56,444.82 457.98,447.03 459.41,423.77 460.83,421.70 462.26,429.07 463.68,444.88 465.10,411.77 466.53,421.77 467.95,436.30 469.37,450.37 470.80,418.44 472.22,419.77 473.64,422.94 475.07,424.40 476.49,432.03 477.91,426.98 479.34,410.90 480.76,427.74 482.18,405.98 483.61,410.69 485.03,423.64 486.45,427.68 487.88,408.79 489.30,424.84 490.72,410.14 492.15,408.88 493.57,424.05 495.00,417.37 496.42,422.31 497.84,405.66 499.27,421.60 500.69,416.49 502.11,421.81 503.54,416.16 504.96,415.49 506.38,406.69 507.81,408.28 509.23,402.83 510.65,411.00 512.08,417.78 513.50,405.52 514.92,404.32 516.35,408.01 517.77,403.62 519.19,408.77 520.62,407.92 522.04,409.46 523.46,416.81 524.89,414.89 526.31,415.98 527.74,404.38 529.16,410.07 530.58,406.19 532.01,398.57 533.43,410.35 534.85,407.11 536.28,400.57 537.70,409.79 539.12,412.20 540.55,408.08 541.97,410.06 543.39,396.16 544.82,398.05 546.24,400.84 547.66,396.42 549.09,397.34 550.51,407.72 551.93,395.29 553.36,401.07 554.78,396.23 556.20,394.50 557.63,403.98 559.05,407.18 560.48,404.92 561.90,401.34 563.32,394.63 564.75,393.70 566.17,407.37 567.59,398.90 569.02,400.14 570.44,403.00 571.86,404.35 573.29,400.60 574.71,390.77 576.13,400.27 577.56,396.94 578.98,393.82 580.40,398.81 581.83,389.20 583.25,389.12 584.67,399.68 586.10,395.69 587.52,398.37 588.94,398.33 590.37,401.72 591.79,392.98 593.22,394.29 594.64,400.60 596.06,397.00 597.49,403.97 598.91,397.02 600.33,398.09 601.76,393.03 603.18,386.02 604.60,395.95 606.03,389.94 607.45,388.58 608.87,395.22 610.30,388.66 611.72,393.05 613.14,389.51 614.57,389.30 615.99,390.30 617.41,395.42 618.84,386.34 620.26,392.17 621.68,393.46 623.11,394.83 624.53,388.42 625.96,387.28 627.38,398.21 628.80,388.66 630.23,391.42 631.65,386.87 633.07,391.42 634.50,386.02 635.92,393.00 637.34,383.21 638.77,390.80 640.19,388.59 641.61,390.66 643.04,382.67 644.46,382.96 645.88,388.54 647.31,384.64 648.73,383.04 650.15,385.24 651.58,385.28 653.00,391.27 654.43,388.72 655.85,378.96 657.27,381.37 658.70,383.47 660.12,385.76 661.54,387.17 662.97,382.18 664.39,380.63 665.81,380.55 667.24,383.64"/>
<polyline class="ln" stroke="#2ca02c" points="383.96,627.41 385.39,573.44 386.81,526.66 388.23,507.95 389.66,517.67 391.08,465.50 392.50,454.70 393.93,446.07 395.35,456.14 396.77,447.51 398.20,442.11 399.62,434.55 401.05,446.49 402.47,455.60 403.89,441.68 405.32,432.46 406.74,428.78 408.16,467.84 409.59,443.59 411.01,432.93 412.43,439.06 413.86,431.91 415.28,434.30 416.70,428.08 418.13,424.56 419.55,419.98 420.97,440.36 422.40,406.29 423.82,417.53 425.24,416.61 426.67,422.12 428.09,434.92 429.52,422.19 430.94,410.27 432.36,421.23 433.79,421.59 435.21,423.29 436.63,426.97 438.06,433.20 439.48,420.14 440.90,422.64 442.33,413.27 443.75,403.69 445.17,403.52 446.60,408.00 448.02,413.34 449.44,401.19 450.87,398.12 452.29,411.70 453.71,412.75 455.14,402.72 456.56,394.71 457.98,404.76 459.41,412.12 460.83,409.70 462.26,397.21 463.68,393.40 465.10,398.64 466.53,402.90 467.95,410.46 469.37,408.43 470.80,410.55 472.22,409.32 473.64,406.23 475.07,401.23 476.49,405.99 477.91,408.61 479.34,403.83 480.76,392.60 482.18,406.38 483.61,400.15 485.03,406.04 486.45,397.09 487.88,397.44 489.30,397.75 490.72,407.89 492.15,393.21 493.57,400.67 495.00,393.74 496.42,405.61 497.84,398.71 499.27,392.28 500.69,391.61 502.11,407.92 503.54,400.08 504.96,403.11 506.38,406.76 507.81,408.65 509.23,407.40 510.65,397.24 512.08,392.85 513.50,392.42 514.92,391.05 516.35,394.33 517.77,392.60 519.19,398.82 520.62,391.33 522.04,401.22 523.46,397.97 524.89,394.97 526.31,402.87 527.74,396.52 529.16,403.30 530.58,398.85 532.01,391.71 533.43,392.05 534.85,388.30 536.28,390.64 537.70,399.15 539.12,388.21 540.55,393.45 541.97,388.75 543.39,389.40 544.82,388.66 546.24,395.16 547.66,391.85 549.09,394.20 550.51,390.04 551.93,393.05 553.36,398.27 554.78,390.27 556.20,396.73 557.63,388.41 559.05,397.83 560.48,399.11 561.90,394.03 563.32,384.39 564.75,388.21 566.17,392.30 567.59,382.17 569.02,397.14 570.44,387.23 571.86,384.51 573.29,397.46 574.71,389.04 576.13,386.85 577.56,393.10 578.98,389.66 580.40,385.34 581.83,388.40 583.25,406.49 584.67,395.61 586.10,389.69 587.52,389.85 588.94,393.68 590.37,395.04 591.79,389.01 593.22,391.25 594.64,392.66 596.06,394.06 597.49,384.44 598.91,390.46 600.33,384.50 601.76,394.24 603.18,394.35 604.60,383.22 606.03,386.13 607.45,382.36 608.87,388.20 610.30,391.69 611.72,382.79 613.14,391.25 614.57,388.85 615.99,382.72 617.41,391.47 618.84,387.44 620.26,382.92 621.68,388.43 623.11,382.00 624.53,378.06 625.96,386.29 627.38,387.66 628.80,381.48 630.23,381.12 631.65,386.01 633.07,389.44 634.50,385.66 635.92,383.17 637.34,383.76 638.77,383.22 640.19,388.93 641.61,383.03 643.04,387.73 644.46,383.39 645.88,386.41 647.31,381.45 648.73,384.97 650.15,383.59 651.58,381.85 653.00,385.96 654.43,382.42 655.85,385.73 657.27,380.43 658.70,384.10 660.12,382.33 661.54,380.07 662.97,386.70 664.39,383.55 665.81,385.15 667.24,381.91"/>
<polyline class="ln" stroke="#d62728" points="383.96,638.20 385.39,620.21 386.81,591.43 388.23,559.04 389.66,530.26 391.08,497.88 392.50,469.09 393.93,457.22 395.35,461.90 396.77,466.40 398.20,451.10 399.62,440.31 401.05,444.00 402.47,437.39 403.89,428.08 405.32,435.51 406.74,445.06 408.16,452.20 409.59,436.53 411.01,424.80 412.43,417.22 413.86,424.91 415.28,427.53 416.70,428.56 418.13,423.68 419.55,426.06 420.97,428.44 422.40,424.00 423.82,414.50 425.24,408.69 426.67,409.70 428.09,404.43 429.52,414.48 430.94,407.99 432.36,414.87 433.79,413.70 435.21,412.40 436.63,406.50 438.06,413.73 439.48,420.24 440.90,422.94 442.33,414.45 443.75,408.19 445.17,416.09 446.60,420.29 448.02,415.99 449.44,406.06 450.87,406.15 452.29,399.87 453.71,400.70 455.14,407.13 456.56,407.04 457.98,401.79 459.41,402.82 460.83,410.79 462.26,407.58 463.68,406.62 465.10,406.87 466.53,398.80 467.95,397.05 469.37,407.07 470.80,410.06 472.22,411.65 473.64,404.58 475.07,401.61 476.49,393.73 477.91,405.64 479.34,390.87 480.76,434.34 482.18,410.69 483.61,391.74 485.03,395.58 486.45,409.50 487.88,403.31 489.30,397.53 490.72,396.71 492.15,394.67 493.57,395.55 495.00,387.06 496.42,393.00 497.84,407.21 499.27,405.94 500.69,397.73 502.11,389.87 503.54,407.29 504.96,403.73 506.38,404.99 507.81,405.41 509.23,405.94 510.65,396.73 512.08,396.53 513.50,391.23 514.92,399.34 516.35,387.78 517.77,399.99 519.19,394.98 520.62,387.06 522.04,393.90 523.46,392.88 524.89,390.92 526.31,402.84 527.74,398.07 529.16,391.51 530.58,400.75 532.01,403.88 533.43,398.82 534.85,390.76 536.28,395.72 537.70,397.37 539.12,399.13 540.55,397.14 541.97,395.94 543.39,400.03 544.82,390.16 546.24,402.17 547.66,386.69 549.09,401.61 550.51,387.80 551.93,386.34 553.36,399.93 554.78,393.43 556.20,394.70 557.63,384.54 559.05,392.02 560.48,395.69 561.90,397.92 563.32,389.33 564.75,383.82 566.17,390.74 567.59,393.10 569.02,382.70 570.44,383.10 571.86,385.39 573.29,387.34 574.71,393.85 576.13,389.92 577.56,391.33 578.98,385.99 580.40,391.69 581.83,383.35 583.25,389.84 584.67,382.26 586.10,383.52 587.52,391.61 588.94,388.86 590.37,389.92 591.79,381.21 593.22,388.68 594.64,390.38 596.06,388.65 597.49,392.32 598.91,386.63 600.33,384.54 601.76,382.11 603.18,383.41 604.60,387.26 606.03,389.31 607.45,384.32 608.87,385.64 610.30,387.83 611.72,386.82 613.14,384.76 614.57,390.22 615.99,384.67 617.41,384.89 618.84,385.40 620.26,384.51 621.68,379.73 623.11,388.05 624.53,384.11 625.96,382.10 627.38,383.58 628.80,384.69 630.23,380.98 631.65,381.24 633.07,385.99 634.50,378.24 635.92,379.93 637.34,387.14 638.77,381.68 640.19,379.57 641.61,379.58 643.04,379.32 644.46,388.32 645.88,385.07 647.31,378.67 648.73,378.42 650.15,380.61 651.58,382.32 653.00,384.83 654.43,382.63 655.85,383.74 657.27,375.79 658.70,375.76 660.12,379.28 661.54,379.94 662.97,385.40 664.39,377.68 665.81,381.47 667.24,378.96"/>
</g>
<line class="tk" x1="383.96" y1="651.30" x2="383.96" y2="654.70"/><text class="t10" transform="translate(383.96 665.90) scale(1 0.95)" text-anchor="middle">0</text>
<line class="tk" x1="419.55" y1="651.30" x2="419.55" y2="654.70"/><text class="t10" transform="translate(419.55 665.90) scale(1 0.95)" text-anchor="middle">25</text>
<line class="tk" x1="455.14" y1="651.30" x2="455.14" y2="654.70"/><text class="t10" transform="translate(455.14 665.90) scale(1 0.95)" text-anchor="middle">50</text>
<line class="tk" x1="490.72" y1="651.30" x2="490.72" y2="654.70"/><text class="t10" transform="translate(490.72 665.90) scale(1 0.95)" text-anchor="middle">75</text>
<line class="tk" x1="526.31" y1="651.30" x2="526.31" y2="654.70"/><text class="t10" transform="translate(526.31 665.90) scale(1 0.95)" text-anchor="middle">100</text>
<line class="tk" x1="561.90" y1="651.30" x2="561.90" y2="654.70"/><text class="t10" transform="translate(561.90 665.90) scale(1 0.95)" text-anchor="middle">125</text>
<line class="tk" x1="597.49" y1="651.30" x2="597.49" y2="654.70"/><text class="t10" transform="translate(597.49 665.90) scale(1 0.95)" text-anchor="middle">150</text>
<line class="tk" x1="633.07" y1="651.30" x2="633.07" y2="654.70"/><text class="t10" transform="translate(633.07 665.90) scale(1 0.95)" text-anchor="middle">175</text>
<line class="tk" x1="668.66" y1="651.30" x2="668.66" y2="654.70"/><text class="t10" transform="translate(668.66 665.90) scale(1 0.95)" text-anchor="middle">200</text>
<line class="tk" x1="366.40" y1="638.20" x2="369.80" y2="638.20"/><text class="t10" transform="translate(362.80 641.70) scale(1 0.95)" text-anchor="end">0.0</text>
<line class="tk" x1="366.40" y1="602.22" x2="369.80" y2="602.22"/><text class="t10" transform="translate(362.80 605.72) scale(1 0.95)" text-anchor="end">0.1</text>
<line class="tk" x1="366.40" y1="566.24" x2="369.80" y2="566.24"/><text class="t10" transform="translate(362.80 569.74) scale(1 0.95)" text-anchor="end">0.2</text>
<line class="tk" x1="366.40" y1="530.26" x2="369.80" y2="530.26"/><text class="t10" transform="translate(362.80 533.76) scale(1 0.95)" text-anchor="end">0.3</text>
<line class="tk" x1="366.40" y1="494.28" x2="369.80" y2="494.28"/><text class="t10" transform="translate(362.80 497.78) scale(1 0.95)" text-anchor="end">0.4</text>
<line class="tk" x1="366.40" y1="458.30" x2="369.80" y2="458.30"/><text class="t10" transform="translate(362.80 461.80) scale(1 0.95)" text-anchor="end">0.5</text>
<line class="tk" x1="366.40" y1="422.32" x2="369.80" y2="422.32"/><text class="t10" transform="translate(362.80 425.82) scale(1 0.95)" text-anchor="end">0.6</text>
<line class="tk" x1="366.40" y1="386.34" x2="369.80" y2="386.34"/><text class="t10" transform="translate(362.80 389.84) scale(1 0.95)" text-anchor="end">0.7</text>
<rect class="ax" x="369.80" y="362.75" width="311.60" height="288.55"/>
<text class="t12" x="525.60" y="356.65" text-anchor="middle">mAP_0.5:0.95</text>
<text class="t10" transform="translate(525.30 679.00) scale(1 0.95)" text-anchor="middle">epoch</text>
<rect class="lg" x="574.25" y="585.20" width="102.30" height="61.00" rx="2" ry="2"/>
<line x1="577.75" y1="593.60" x2="598.65" y2="593.60" stroke="#1f77b4" stroke-width="1.45"/><text class="t10" transform="translate(605.65 596.90) scale(1 0.95)">YOLOv8n</text>
<line x1="577.75" y1="608.05" x2="598.65" y2="608.05" stroke="#ff7f0e" stroke-width="1.45"/><text class="t10" transform="translate(605.65 611.35) scale(1 0.95)">SAR-HP</text>
<line x1="577.75" y1="622.50" x2="598.65" y2="622.50" stroke="#2ca02c" stroke-width="1.45"/><text class="t10" transform="translate(605.65 625.80) scale(1 0.95)">SAR-HP-Prune</text>
<line x1="577.75" y1="636.95" x2="598.65" y2="636.95" stroke="#d62728" stroke-width="1.45"/><text class="t10" transform="translate(605.65 640.25) scale(1 0.95)">SAR-HP-MKD</text>
</g>
</svg>
</body></html>
